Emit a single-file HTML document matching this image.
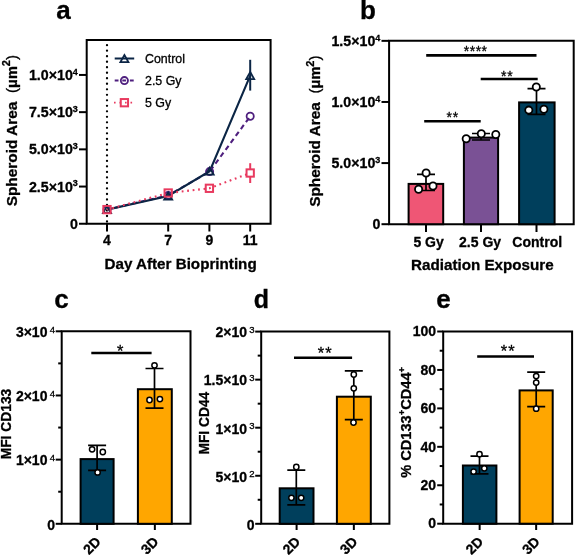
<!DOCTYPE html>
<html><head><meta charset="utf-8"><style>
html,body{margin:0;padding:0;background:#fff;width:575px;height:556px;overflow:hidden}
svg{display:block;will-change:transform}
text{font-family:"Liberation Sans", sans-serif;fill:#000;stroke:#000;stroke-width:0.3px}
</style></head><body>
<svg width="575" height="556" viewBox="0 0 575 556">
<text x="56.2" y="18.7" font-size="26" text-anchor="start" font-weight="bold" >a</text>
<path d="M86.7,223.75 V40 H270.6 V223.75 Z" fill="none" stroke="#000" stroke-width="2" stroke-linejoin="miter"/>
<line x1="79" y1="223.75" x2="86.7" y2="223.75" stroke="#000" stroke-width="2" />
<text x="77.8" y="228.85" font-size="14.2" text-anchor="end" font-weight="bold" >0</text>
<line x1="79" y1="186.55" x2="86.7" y2="186.55" stroke="#000" stroke-width="2" />
<text x="77.8" y="191.65" font-size="14.2" text-anchor="end" font-weight="bold" >2.5×10<tspan font-size="9" dy="-5.2">3</tspan></text>
<line x1="79" y1="149.35" x2="86.7" y2="149.35" stroke="#000" stroke-width="2" />
<text x="77.8" y="154.45" font-size="14.2" text-anchor="end" font-weight="bold" >5.0×10<tspan font-size="9" dy="-5.2">3</tspan></text>
<line x1="79" y1="112.14999999999999" x2="86.7" y2="112.14999999999999" stroke="#000" stroke-width="2" />
<text x="77.8" y="117.24999999999999" font-size="14.2" text-anchor="end" font-weight="bold" >7.5×10<tspan font-size="9" dy="-5.2">3</tspan></text>
<line x1="79" y1="74.94999999999999" x2="86.7" y2="74.94999999999999" stroke="#000" stroke-width="2" />
<text x="77.8" y="80.04999999999998" font-size="14.2" text-anchor="end" font-weight="bold" >1.0×10<tspan font-size="9" dy="-5.2">4</tspan></text>
<line x1="107" y1="223.75" x2="107" y2="231.5" stroke="#000" stroke-width="2" />
<text x="107" y="245" font-size="14" text-anchor="middle" font-weight="bold" >4</text>
<line x1="168.2" y1="223.75" x2="168.2" y2="231.5" stroke="#000" stroke-width="2" />
<text x="168.2" y="245" font-size="14" text-anchor="middle" font-weight="bold" >7</text>
<line x1="209.4" y1="223.75" x2="209.4" y2="231.5" stroke="#000" stroke-width="2" />
<text x="209.4" y="245" font-size="14" text-anchor="middle" font-weight="bold" >9</text>
<line x1="250.2" y1="223.75" x2="250.2" y2="231.5" stroke="#000" stroke-width="2" />
<text x="250.2" y="245" font-size="14" text-anchor="middle" font-weight="bold" >11</text>
<text x="180.6" y="269" font-size="15.2" text-anchor="middle" font-weight="bold" >Day After Bioprinting</text>
<text transform="translate(16.6,206.3) rotate(-90)" font-size="15.4" text-anchor="start" font-weight="bold">Spheroid Area</text>
<text transform="translate(16.6,93.0) rotate(-90)" font-size="15.2" text-anchor="start">(<tspan font-weight="bold" font-size="14.5">μm</tspan><tspan font-weight="bold" font-size="11" dy="-6.3">2</tspan><tspan dy="6.3">)</tspan></text>
<line x1="107" y1="45.2" x2="107" y2="223" stroke="#000" stroke-width="2.3" stroke-dasharray="0.01,5.5" stroke-linecap="round"/>
<path d="M107,209.6 L168.2,195.4 L209.6,171.6 L250.2,116.3" fill="none" stroke="#4e1f7e" stroke-width="2.1" stroke-dasharray="5,3.6"/>
<path d="M107,209.6 L168.2,196 L209.7,171.2 L250.2,75.6" fill="none" stroke="#0b2545" stroke-width="2.1" />
<path d="M107,209.6 L168.2,193 L209.4,188.3 L250.2,173" fill="none" stroke="#e83a5f" stroke-width="2.1" stroke-dasharray="1.8,3.7"/>
<line x1="250.2" y1="59.8" x2="250.2" y2="90.6" stroke="#0b2545" stroke-width="2" />
<line x1="250.2" y1="163.2" x2="250.2" y2="169.5" stroke="#e83a5f" stroke-width="2" />
<line x1="250.2" y1="176.5" x2="250.2" y2="183" stroke="#e83a5f" stroke-width="2" />
<circle cx="107" cy="209.6" r="3.6" fill="none" stroke="#4e1f7e" stroke-width="1.8"/>
<circle cx="168.2" cy="195.4" r="3.6" fill="none" stroke="#4e1f7e" stroke-width="1.8"/>
<circle cx="209.6" cy="171.6" r="3.6" fill="none" stroke="#4e1f7e" stroke-width="1.8"/>
<circle cx="250.2" cy="116.3" r="3.6" fill="none" stroke="#4e1f7e" stroke-width="1.8"/>
<path d="M107,206.0 L111,213.1 L103,213.1 Z" fill="none" stroke="#0b2545" stroke-width="1.8"/>
<path d="M168.2,192.4 L172.2,199.5 L164.2,199.5 Z" fill="none" stroke="#0b2545" stroke-width="1.8"/>
<path d="M209.7,167.6 L213.7,174.7 L205.7,174.7 Z" fill="none" stroke="#0b2545" stroke-width="1.8"/>
<path d="M250.2,72.0 L254.2,79.1 L246.2,79.1 Z" fill="none" stroke="#0b2545" stroke-width="1.8"/>
<rect x="103.35" y="205.95" width="7.3" height="7.3" fill="none" stroke="#e83a5f" stroke-width="2"/>
<rect x="164.54999999999998" y="189.35" width="7.3" height="7.3" fill="none" stroke="#e83a5f" stroke-width="2"/>
<rect x="205.75" y="184.65" width="7.3" height="7.3" fill="none" stroke="#e83a5f" stroke-width="2"/>
<rect x="246.54999999999998" y="169.35" width="7.3" height="7.3" fill="none" stroke="#e83a5f" stroke-width="2"/>
<line x1="114.7" y1="58.5" x2="134.2" y2="58.5" stroke="#0b2545" stroke-width="2" />
<path d="M124.4,55.0 L128.4,62.1 L120.4,62.1 Z" fill="none" stroke="#0b2545" stroke-width="1.8"/>
<text x="145" y="63" font-size="12.4" text-anchor="start" >Control</text>
<path d="M114.7,80.6 H134" fill="none" stroke="#4e1f7e" stroke-width="2" stroke-dasharray="3.8,3.8"/>
<circle cx="124.4" cy="80.6" r="3.6" fill="none" stroke="#4e1f7e" stroke-width="1.8"/>
<text x="145" y="84.8" font-size="12.4" text-anchor="start" >2.5 Gy</text>
<path d="M114,102.7 H134" fill="none" stroke="#e83a5f" stroke-width="1.8" stroke-dasharray="1.6,3.9"/>
<rect x="120.75" y="99.05" width="7.3" height="7.3" fill="none" stroke="#e83a5f" stroke-width="2"/>
<text x="145" y="106.8" font-size="12.4" text-anchor="start" >5 Gy</text>
<text x="360" y="18.5" font-size="26" text-anchor="start" font-weight="bold" >b</text>
<path d="M389.1,224.2 V40.85 H573.7 V224.2 Z" fill="none" stroke="#000" stroke-width="2" stroke-linejoin="miter"/>
<line x1="381.5" y1="224.2" x2="389.1" y2="224.2" stroke="#000" stroke-width="2" />
<text x="380.3" y="229.29999999999998" font-size="14.2" text-anchor="end" font-weight="bold" >0</text>
<line x1="381.5" y1="163.08333333333331" x2="389.1" y2="163.08333333333331" stroke="#000" stroke-width="2" />
<text x="380.3" y="168.1833333333333" font-size="14.2" text-anchor="end" font-weight="bold" >5.0×10<tspan font-size="9" dy="-5.2">3</tspan></text>
<line x1="381.5" y1="101.96666666666667" x2="389.1" y2="101.96666666666667" stroke="#000" stroke-width="2" />
<text x="380.3" y="107.06666666666666" font-size="14.2" text-anchor="end" font-weight="bold" >1.0×10<tspan font-size="9" dy="-5.2">4</tspan></text>
<line x1="381.5" y1="40.849999999999994" x2="389.1" y2="40.849999999999994" stroke="#000" stroke-width="2" />
<text x="380.3" y="45.949999999999996" font-size="14.2" text-anchor="end" font-weight="bold" >1.5×10<tspan font-size="9" dy="-5.2">4</tspan></text>
<line x1="426" y1="224.2" x2="426" y2="232" stroke="#000" stroke-width="2" />
<text x="428.6" y="246.7" font-size="14" text-anchor="middle" font-weight="bold" >5 Gy</text>
<line x1="481" y1="224.2" x2="481" y2="232" stroke="#000" stroke-width="2" />
<text x="480.1" y="246.7" font-size="14" text-anchor="middle" font-weight="bold" >2.5 Gy</text>
<line x1="536.5" y1="224.2" x2="536.5" y2="232" stroke="#000" stroke-width="2" />
<text x="537.2" y="246.7" font-size="14" text-anchor="middle" font-weight="bold" >Control</text>
<text x="482.4" y="270" font-size="15.2" text-anchor="middle" font-weight="bold" >Radiation Exposure</text>
<text transform="translate(320.4,206.8) rotate(-90)" font-size="15.4" text-anchor="start" font-weight="bold">Spheroid Area</text>
<text transform="translate(320.4,93.5) rotate(-90)" font-size="15.2" text-anchor="start">(<tspan font-weight="bold" font-size="14.5">μm</tspan><tspan font-weight="bold" font-size="11" dy="-6.3">2</tspan><tspan dy="6.3">)</tspan></text>
<rect x="408.6" y="183.9" width="34.60" height="40.30" fill="#ef5675" stroke="#000" stroke-width="2"/>
<rect x="463.9" y="137.60000000000002" width="34.20" height="86.60" fill="#7a5195" stroke="#000" stroke-width="2"/>
<rect x="519.1" y="102.39999999999999" width="35.50" height="121.80" fill="#003f5c" stroke="#000" stroke-width="2"/>
<path d="M426,174.3 V190.5 M417,174.3 H435 M417,190.5 H435" fill="none" stroke="#000" stroke-width="1.7"/>
<path d="M481,133.5 V140 M472,133.5 H490 M472,140 H490" fill="none" stroke="#000" stroke-width="1.7"/>
<path d="M536.5,88.7 V114.4 M527.5,88.7 H545.5 M527.5,114.4 H545.5" fill="none" stroke="#000" stroke-width="1.7"/>
<circle cx="418.6" cy="189.2" r="3.6" fill="#fff" stroke="#000" stroke-width="1.8"/>
<circle cx="426.1" cy="173" r="3.6" fill="#fff" stroke="#000" stroke-width="1.8"/>
<circle cx="433" cy="186" r="3.6" fill="#fff" stroke="#000" stroke-width="1.8"/>
<circle cx="466.2" cy="138.8" r="3.6" fill="#fff" stroke="#000" stroke-width="1.8"/>
<circle cx="481.3" cy="133.8" r="3.6" fill="#fff" stroke="#000" stroke-width="1.8"/>
<circle cx="495.8" cy="134.5" r="3.6" fill="#fff" stroke="#000" stroke-width="1.8"/>
<circle cx="536.3" cy="87" r="3.6" fill="#fff" stroke="#000" stroke-width="1.8"/>
<circle cx="528.8" cy="110.1" r="3.6" fill="#fff" stroke="#000" stroke-width="1.8"/>
<circle cx="543.9" cy="109.2" r="3.6" fill="#fff" stroke="#000" stroke-width="1.8"/>
<line x1="426.2" y1="55.4" x2="536.5" y2="55.4" stroke="#000" stroke-width="2.7" />
<line x1="480.7" y1="79" x2="537.7" y2="79" stroke="#000" stroke-width="2.6" />
<line x1="424.2" y1="121.3" x2="480.7" y2="121.3" stroke="#000" stroke-width="2.6" />
<text x="463.78" y="55.88" font-size="14">*</text>
<text x="469.78" y="55.88" font-size="14">*</text>
<text x="475.68" y="55.88" font-size="14">*</text>
<text x="481.58" y="55.88" font-size="14">*</text>
<text x="500.98" y="80.97" font-size="14">*</text>
<text x="507.28" y="80.97" font-size="14">*</text>
<text x="446.58" y="122.08" font-size="14">*</text>
<text x="452.68" y="122.08" font-size="14">*</text>
<text x="54.2" y="307.5" font-size="26" text-anchor="start" font-weight="bold" >c</text>
<path d="M61.7,523.8 V331.3 H190.5 V523.8 Z" fill="none" stroke="#000" stroke-width="2" stroke-linejoin="miter"/>
<line x1="55.7" y1="523.8" x2="61.7" y2="523.8" stroke="#000" stroke-width="2" />
<text x="55" y="529.5999999999999" font-size="14" text-anchor="end" font-weight="bold" >0</text>
<line x1="55.7" y1="459.6333333333333" x2="61.7" y2="459.6333333333333" stroke="#000" stroke-width="2" />
<text x="55" y="465.43333333333334" font-size="14" text-anchor="end" font-weight="bold" >1×10<tspan font-size="9.6" font-weight="normal" dx="2.2" dy="-4.6">4</tspan></text>
<line x1="55.7" y1="395.46666666666664" x2="61.7" y2="395.46666666666664" stroke="#000" stroke-width="2" />
<text x="55" y="401.26666666666665" font-size="14" text-anchor="end" font-weight="bold" >2×10<tspan font-size="9.6" font-weight="normal" dx="2.2" dy="-4.6">4</tspan></text>
<line x1="55.7" y1="331.3" x2="61.7" y2="331.3" stroke="#000" stroke-width="2" />
<text x="55" y="337.1" font-size="14" text-anchor="end" font-weight="bold" >3×10<tspan font-size="9.6" font-weight="normal" dx="2.2" dy="-4.6">4</tspan></text>
<line x1="58.2" y1="491.71666666666664" x2="61.7" y2="491.71666666666664" stroke="#000" stroke-width="2" />
<line x1="58.2" y1="427.54999999999995" x2="61.7" y2="427.54999999999995" stroke="#000" stroke-width="2" />
<line x1="58.2" y1="363.3833333333333" x2="61.7" y2="363.3833333333333" stroke="#000" stroke-width="2" />
<rect x="80.6" y="459.1" width="33.00" height="64.70" fill="#003f5c" stroke="#000" stroke-width="2"/>
<line x1="97.1" y1="523.8" x2="97.1" y2="530" stroke="#000" stroke-width="2" />
<rect x="137.9" y="389.2" width="33.90" height="134.60" fill="#ffa600" stroke="#000" stroke-width="2"/>
<line x1="154.85000000000002" y1="523.8" x2="154.85000000000002" y2="530" stroke="#000" stroke-width="2" />
<path d="M97.1,445.4 V470.4 M88.1,445.4 H106.1 M88.1,470.4 H106.1" fill="none" stroke="#000" stroke-width="1.7"/>
<path d="M154.5,368.5 V408.1 M145.5,368.5 H163.5 M145.5,408.1 H163.5" fill="none" stroke="#000" stroke-width="1.7"/>
<circle cx="92.1" cy="449.3" r="2.65" fill="#fff" stroke="#000" stroke-width="1.5"/>
<circle cx="102.8" cy="452" r="2.65" fill="#fff" stroke="#000" stroke-width="1.5"/>
<circle cx="97.6" cy="472.4" r="2.65" fill="#fff" stroke="#000" stroke-width="1.5"/>
<circle cx="154.5" cy="365.3" r="2.65" fill="#fff" stroke="#000" stroke-width="1.5"/>
<circle cx="149.5" cy="400" r="2.65" fill="#fff" stroke="#000" stroke-width="1.5"/>
<circle cx="159.9" cy="399.1" r="2.65" fill="#fff" stroke="#000" stroke-width="1.5"/>
<line x1="91.3" y1="353" x2="151.6" y2="353" stroke="#000" stroke-width="2.6" />
<text x="116.99" y="356.66" font-size="16.5">*</text>
<text transform="translate(101.6,542.5) rotate(-45)" font-size="14" text-anchor="end" font-weight="bold">2D</text>
<text transform="translate(159.35000000000002,542.5) rotate(-45)" font-size="14" text-anchor="end" font-weight="bold">3D</text>
<text transform="translate(11.3,459.3) rotate(-90)" font-size="13.8" text-anchor="start" font-weight="bold">MFI CD133</text>
<text x="253.8" y="308.3" font-size="25" text-anchor="start" font-weight="bold" >d</text>
<path d="M261.2,523.8 V331.6 H389.4 V523.8 Z" fill="none" stroke="#000" stroke-width="2" stroke-linejoin="miter"/>
<line x1="255.2" y1="523.8" x2="261.2" y2="523.8" stroke="#000" stroke-width="2" />
<text x="254.6" y="529.5999999999999" font-size="14" text-anchor="end" font-weight="bold" >0</text>
<line x1="255.2" y1="475.75" x2="261.2" y2="475.75" stroke="#000" stroke-width="2" />
<text x="254.6" y="481.55" font-size="14" text-anchor="end" font-weight="bold" >5×10<tspan font-size="9.6" font-weight="normal" dx="2.2" dy="-4.6">2</tspan></text>
<line x1="255.2" y1="427.7" x2="261.2" y2="427.7" stroke="#000" stroke-width="2" />
<text x="254.6" y="433.5" font-size="14" text-anchor="end" font-weight="bold" >1×10<tspan font-size="9.6" font-weight="normal" dx="2.2" dy="-4.6">3</tspan></text>
<line x1="255.2" y1="379.65" x2="261.2" y2="379.65" stroke="#000" stroke-width="2" />
<text x="254.6" y="385.45" font-size="14" text-anchor="end" font-weight="bold" >1.5×10<tspan font-size="9.6" font-weight="normal" dx="2.2" dy="-4.6">3</tspan></text>
<line x1="255.2" y1="331.6" x2="261.2" y2="331.6" stroke="#000" stroke-width="2" />
<text x="254.6" y="337.40000000000003" font-size="14" text-anchor="end" font-weight="bold" >2×10<tspan font-size="9.6" font-weight="normal" dx="2.2" dy="-4.6">3</tspan></text>
<line x1="257.7" y1="499.775" x2="261.2" y2="499.775" stroke="#000" stroke-width="2" />
<line x1="257.7" y1="451.72499999999997" x2="261.2" y2="451.72499999999997" stroke="#000" stroke-width="2" />
<line x1="257.7" y1="403.675" x2="261.2" y2="403.675" stroke="#000" stroke-width="2" />
<line x1="257.7" y1="355.625" x2="261.2" y2="355.625" stroke="#000" stroke-width="2" />
<rect x="279.7" y="488.3" width="33.80" height="35.50" fill="#003f5c" stroke="#000" stroke-width="2"/>
<line x1="296.6" y1="523.8" x2="296.6" y2="530" stroke="#000" stroke-width="2" />
<rect x="336.9" y="396.7" width="33.90" height="127.10" fill="#ffa600" stroke="#000" stroke-width="2"/>
<line x1="353.85" y1="523.8" x2="353.85" y2="530" stroke="#000" stroke-width="2" />
<path d="M296.3,470.1 V504.8 M287.3,470.1 H305.3 M287.3,504.8 H305.3" fill="none" stroke="#000" stroke-width="1.7"/>
<path d="M353.8,370.9 V419.7 M344.8,370.9 H362.8 M344.8,419.7 H362.8" fill="none" stroke="#000" stroke-width="1.7"/>
<circle cx="296.3" cy="467" r="2.65" fill="#fff" stroke="#000" stroke-width="1.5"/>
<circle cx="291.4" cy="497.8" r="2.65" fill="#fff" stroke="#000" stroke-width="1.5"/>
<circle cx="301.2" cy="497.8" r="2.65" fill="#fff" stroke="#000" stroke-width="1.5"/>
<circle cx="353.8" cy="374.5" r="2.65" fill="#fff" stroke="#000" stroke-width="1.5"/>
<circle cx="353.8" cy="388.3" r="2.65" fill="#fff" stroke="#000" stroke-width="1.5"/>
<circle cx="353.5" cy="422.5" r="2.65" fill="#fff" stroke="#000" stroke-width="1.5"/>
<line x1="294" y1="357.7" x2="352.1" y2="357.7" stroke="#000" stroke-width="2.6" />
<text x="317.69" y="359.36" font-size="16.5">*</text>
<text x="325.29" y="359.36" font-size="16.5">*</text>
<text transform="translate(301.1,542.5) rotate(-45)" font-size="14" text-anchor="end" font-weight="bold">2D</text>
<text transform="translate(358.35,542.5) rotate(-45)" font-size="14" text-anchor="end" font-weight="bold">3D</text>
<text transform="translate(208.5,454.6) rotate(-90)" font-size="13.8" text-anchor="start" font-weight="bold">MFI CD44</text>
<text x="436.2" y="307.5" font-size="26" text-anchor="start" font-weight="bold" >e</text>
<path d="M443.2,523.7 V331.5 H572.1 V523.7 Z" fill="none" stroke="#000" stroke-width="2" stroke-linejoin="miter"/>
<line x1="437.2" y1="523.7" x2="443.2" y2="523.7" stroke="#000" stroke-width="2" />
<text x="436" y="528.4000000000001" font-size="14" text-anchor="end" font-weight="bold" >0</text>
<line x1="437.2" y1="485.26000000000005" x2="443.2" y2="485.26000000000005" stroke="#000" stroke-width="2" />
<text x="436" y="489.96000000000004" font-size="14" text-anchor="end" font-weight="bold" >20</text>
<line x1="437.2" y1="446.82000000000005" x2="443.2" y2="446.82000000000005" stroke="#000" stroke-width="2" />
<text x="436" y="451.52000000000004" font-size="14" text-anchor="end" font-weight="bold" >40</text>
<line x1="437.2" y1="408.38" x2="443.2" y2="408.38" stroke="#000" stroke-width="2" />
<text x="436" y="413.08" font-size="14" text-anchor="end" font-weight="bold" >60</text>
<line x1="437.2" y1="369.94000000000005" x2="443.2" y2="369.94000000000005" stroke="#000" stroke-width="2" />
<text x="436" y="374.64000000000004" font-size="14" text-anchor="end" font-weight="bold" >80</text>
<line x1="437.2" y1="331.5" x2="443.2" y2="331.5" stroke="#000" stroke-width="2" />
<text x="436" y="336.2" font-size="14" text-anchor="end" font-weight="bold" >100</text>
<line x1="439.7" y1="504.48" x2="443.2" y2="504.48" stroke="#000" stroke-width="2" />
<line x1="439.7" y1="466.04" x2="443.2" y2="466.04" stroke="#000" stroke-width="2" />
<line x1="439.7" y1="427.6" x2="443.2" y2="427.6" stroke="#000" stroke-width="2" />
<line x1="439.7" y1="389.16" x2="443.2" y2="389.16" stroke="#000" stroke-width="2" />
<line x1="439.7" y1="350.72" x2="443.2" y2="350.72" stroke="#000" stroke-width="2" />
<rect x="462.9" y="465.5" width="33.50" height="58.20" fill="#003f5c" stroke="#000" stroke-width="2"/>
<line x1="479.65" y1="523.7" x2="479.65" y2="530" stroke="#000" stroke-width="2" />
<rect x="519.6" y="390.40000000000003" width="33.10" height="133.30" fill="#ffa600" stroke="#000" stroke-width="2"/>
<line x1="536.1500000000001" y1="523.7" x2="536.1500000000001" y2="530" stroke="#000" stroke-width="2" />
<path d="M479.5,456.2 V473.9 M470.5,456.2 H488.5 M470.5,473.9 H488.5" fill="none" stroke="#000" stroke-width="1.7"/>
<path d="M536.2,372.2 V406.7 M527.2,372.2 H545.2 M527.2,406.7 H545.2" fill="none" stroke="#000" stroke-width="1.7"/>
<circle cx="479.5" cy="454.2" r="2.65" fill="#fff" stroke="#000" stroke-width="1.5"/>
<circle cx="473.6" cy="471.6" r="2.65" fill="#fff" stroke="#000" stroke-width="1.5"/>
<circle cx="484.3" cy="468.3" r="2.65" fill="#fff" stroke="#000" stroke-width="1.5"/>
<circle cx="536.2" cy="376.1" r="2.65" fill="#fff" stroke="#000" stroke-width="1.5"/>
<circle cx="536.2" cy="382.6" r="2.65" fill="#fff" stroke="#000" stroke-width="1.5"/>
<circle cx="536.2" cy="408.7" r="2.65" fill="#fff" stroke="#000" stroke-width="1.5"/>
<line x1="477.2" y1="356.5" x2="534" y2="356.5" stroke="#000" stroke-width="2.6" />
<text x="500.69" y="357.16" font-size="16.5">*</text>
<text x="508.19" y="357.16" font-size="16.5">*</text>
<text transform="translate(484.15,542.5) rotate(-45)" font-size="14" text-anchor="end" font-weight="bold">2D</text>
<text transform="translate(540.6500000000001,542.5) rotate(-45)" font-size="14" text-anchor="end" font-weight="bold">3D</text>
<text transform="translate(411,477.8) rotate(-90)" font-size="14.6" text-anchor="start" font-weight="bold">%  CD133<tspan font-size="9.5" dy="-6.5">+</tspan><tspan dy="6.5">CD44</tspan><tspan font-size="9.5" dy="-6.5">+</tspan></text>
</svg>
</body></html>
